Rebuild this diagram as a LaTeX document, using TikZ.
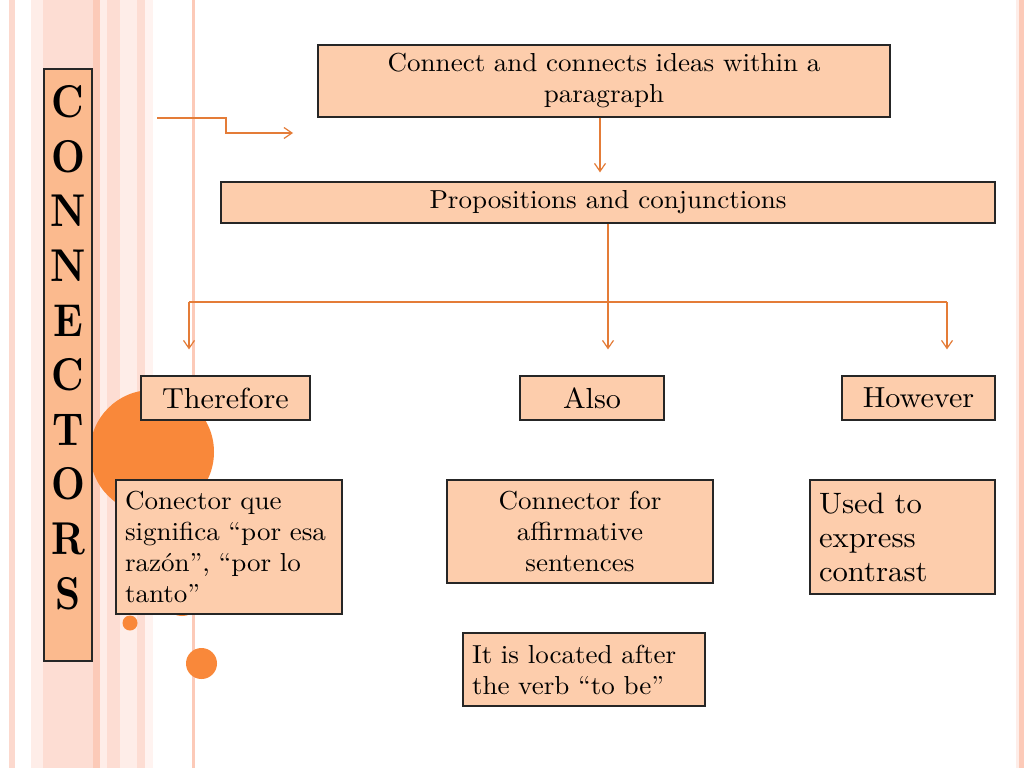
\documentclass[tikz,border=0pt]{standalone}
\usepackage{fontspec}
\setmainfont{lmroman10-regular.otf}[BoldFont=lmroman10-bold.otf, ItalicFont=lmroman10-italic.otf, FakeStretch=1.04]
\usepackage{tikz}
\usetikzlibrary{positioning}
\usetikzlibrary{arrows.meta}

\definecolor{peach}{RGB}{253,205,172}
\definecolor{deeppeach}{RGB}{251,186,142}
\definecolor{dotorange}{RGB}{249,136,58}
\definecolor{linkorange}{RGB}{228,124,56}
\definecolor{stripeA}{RGB}{252,217,206}
\definecolor{stripeB}{RGB}{254,237,232}
\definecolor{stripeC}{RGB}{253,221,211}
\definecolor{stripeD}{RGB}{252,202,184}
\definecolor{stripeE}{RGB}{255,243,240}

\tikzset{
  box/.style={draw=black!85, fill=peach, line width=1.2pt, inner sep=0pt},
  label/.style={box, font=\fontsize{29}{33}\selectfont},
  textbox/.style={box, font=\fontsize{26}{31}\selectfont},
  letter/.style={font=\fontsize{46}{46}\selectfont\bfseries, inner sep=0pt},
  link/.style={draw=linkorange, line width=1.2pt,
    -{Straight Barb[length=8pt,width=11pt,line width=1.2pt]}},
}

\begin{document}
\begin{tikzpicture}[x=1pt,y=-1pt]
        \useasboundingbox[fill=white] (0,0) rectangle (1024,768);

        % stripes on the left and right
        \fill[stripeA] (9,0) rectangle (15,768);
        \fill[stripeB] (31,0) rectangle (43,768);
        \fill[stripeC] (43,0) rectangle (93,768);
        \fill[stripeD] (93,0) rectangle (100,768);
        \fill[stripeB] (100,0) rectangle (107,768);
        \fill[stripeC] (107,0) rectangle (120,768);
        \fill[stripeB] (120,0) rectangle (137,768);
        \fill[stripeC] (137,0) rectangle (145,768);
        \fill[stripeE] (145,0) rectangle (153,768);
        \fill[stripeD] (192,0) rectangle (195,768);
        \fill[stripeB] (1016,0) rectangle (1019,768);
        \fill[stripeD] (1019,0) rectangle (1024,768);

        % dots
        \fill[dotorange] (152,452) circle (62);
        \fill[dotorange] (182,596) circle (20);
        \fill[dotorange] (130,623) circle (7.5);
        \fill[dotorange] (201.5,663.5) circle (15.5);

        % title column
        \node[box, fill=deeppeach, minimum width=48pt, minimum height=592pt] (word) at (68,365) {};
        \foreach \l [count=\i from 0] in {C,O,N,N,E,C,T,O,R,S}
          \node[letter] (let\i) at (68,{102+54.6*\i}) {\scalebox{.82}[1]{\l}};

        \node[textbox, minimum width=572pt, minimum height=72pt, text width=540pt, align=center] (ideas) at (604,81)
          {Connect and connects ideas within a\\paragraph};
        \node[textbox, minimum width=774pt, minimum height=41pt] (props) at (608,202.5)
          {Propositions and conjunctions};

        \node[label, minimum width=169pt, minimum height=44pt] (therefore) at (225.5,398) {Therefore};
        \node[label, minimum width=144pt, minimum height=44pt] (also) at (592,398) {Also};
        \node[label, minimum width=153pt, minimum height=44pt] (however) at (918.5,398) {However};

        \node[textbox, minimum width=226pt, minimum height=134pt, text width=208pt, align=left] (porlotanto) at (229,547)
          {Conector que\\significa ``por esa\\raz\'on'', ``por lo\\tanto''};
        \node[textbox, minimum width=266pt, minimum height=103pt, text width=240pt, align=center] (affirm) at (580,531.5)
          {Connector for\\affirmative\\sentences};
        \node[textbox, font=\fontsize{29.5}{34}\selectfont, minimum width=185pt, minimum height=114pt, text width=167pt, align=left] (contrast) at (902.5,537)
          {Used to\\express\\contrast};
        \node[textbox, minimum width=242pt, minimum height=73pt, text width=224pt, align=left] (located) at (584,669.5)
          {It is located after\\the verb ``to be''};

        % connectors
        \coordinate (from) at (157,118);
        \coordinate (to) at (293,133);
        \draw[link] (from) -- ++(69,0) |- (to);
        \draw[link] ([xshift=-4pt]ideas.south) -- ([xshift=-8pt,yshift=9pt]props.north);
        \draw[link] (props.south) -- ([yshift=26pt]props.south |- also.north);
        \draw[draw=linkorange, line width=1.2pt] ([xshift=-36.5pt]therefore.north |- 0,302) -- ([xshift=28.5pt]however.north |- 0,302);
        \draw[link] ([xshift=-36.5pt]therefore.north |- 0,302) -- ([xshift=-36.5pt,yshift=26pt]therefore.north);
        \draw[link] ([xshift=28.5pt]however.north |- 0,302) -- ([xshift=28.5pt,yshift=26pt]however.north);
      \end{tikzpicture}
\end{document}
